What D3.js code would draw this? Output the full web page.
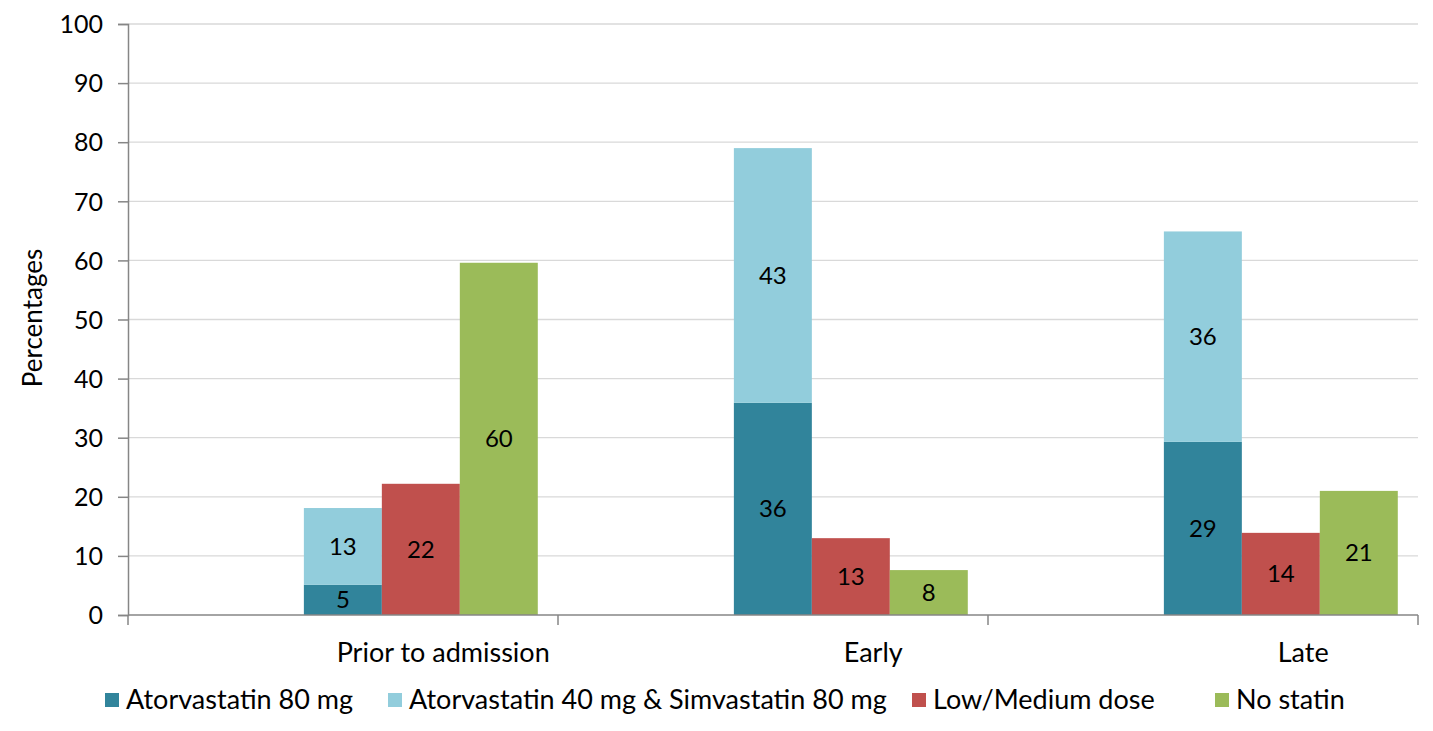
<!DOCTYPE html>
<html><head><meta charset="utf-8">
<script src="https://cdn.jsdelivr.net/npm/d3@7"></script>
<style>body{margin:0;background:#fff}svg{display:block}text{font-family:Lato,"Open Sans",sans-serif;fill:#000}</style>
</head><body>
<svg id="c" width="1433" height="731"></svg>
<script>
const categories = ["Prior to admission", "Early", "Late"];
const seriesNames = ["Atorvastatin 80 mg", "Atorvastatin 40 mg & Simvastatin 80 mg", "Low/Medium dose", "No statin"];
const atorva80 = [5.1, 35.9, 29.3];
const atorva40simva80 = [13.0, 43.1, 35.6];
const lowMedium = [22.2, 13.0, 13.9];
const noStatin = [59.6, 7.6, 21.0];
const yTicks = [0,10,20,30,40,50,60,70,80,90,100];
const colors = ["#31849B", "#92CDDC", "#C0504D", "#9BBB59"];

const svg = d3.select("#c");
const L = 128, R = 1418, T = 24, B = 615;
const x = d3.scaleBand().domain(categories).range([L, R]).padding(0);
const bw = x.bandwidth();
const slot = d3.scaleBand().domain(["stack","low","none"]).range([0.409*bw, 0.953*bw]).padding(0);
const y = d3.scaleLinear().domain([0,100]).range([B, T]);

// gridlines
svg.append("g").selectAll("line").data(yTicks.filter(d=>d>0)).join("line")
  .attr("x1", L).attr("x2", R).attr("y1", d=>y(d)).attr("y2", d=>y(d))
  .attr("stroke", "#D9D9D9").attr("stroke-width", 1.3);

// y axis
const yAx = svg.append("g").attr("transform", `translate(${L},0)`)
  .call(d3.axisLeft(y).tickValues(yTicks).tickSize(10).tickPadding(15).tickFormat(d3.format("d")));
yAx.select(".domain").attr("stroke", "#868686").attr("stroke-width", 1.5);
yAx.selectAll(".tick line").attr("stroke", "#868686").attr("stroke-width", 1.5);
yAx.selectAll("text").style("font-size", "25px").attr("fill", "#000").attr("dy", "0.35em");

const fmt = d3.format(".0f");
const rows = categories.map((c,i)=>({c, a:atorva80[i], b:atorva40simva80[i], l:lowMedium[i], n:noStatin[i]}));
const segs = [];
rows.forEach(r=>{
  segs.push({c:r.c, s:"stack", y0:0, y1:r.a, v:r.a, col:colors[0]});
  segs.push({c:r.c, s:"stack", y0:r.a, y1:r.a+r.b, v:r.b, col:colors[1]});
  segs.push({c:r.c, s:"low", y0:0, y1:r.l, v:r.l, col:colors[2]});
  segs.push({c:r.c, s:"none", y0:0, y1:r.n, v:r.n, col:colors[3]});
});
svg.append("g").selectAll("rect").data(segs).join("rect")
  .attr("x", d=>x(d.c)+slot(d.s)).attr("width", slot.bandwidth())
  .attr("y", d=>y(d.y1)).attr("height", d=>y(d.y0)-y(d.y1))
  .attr("fill", d=>d.col);
svg.append("g").selectAll("text").data(segs).join("text")
  .attr("x", d=>x(d.c)+slot(d.s)+slot.bandwidth()/2)
  .attr("y", d=>(y(d.y0)+y(d.y1))/2).attr("dy", "0.35em")
  .attr("text-anchor", "middle").style("font-size", "24px")
  .text(d=>fmt(d.v));

// x axis
const xg = svg.append("g");
xg.append("line").attr("x1", L).attr("x2", R).attr("y1", B).attr("y2", B)
  .attr("stroke", "#868686").attr("stroke-width", 1.5);
xg.selectAll("line.t").data([...categories.map(c=>x(c)), R]).join("line").attr("class","t")
  .attr("x1", d=>d).attr("x2", d=>d).attr("y1", B).attr("y2", B+10)
  .attr("stroke", "#868686").attr("stroke-width", 1.5);
xg.selectAll("text").data(categories).join("text")
  .attr("x", d=>x(d)+0.733*bw).attr("y", 653).attr("dy","0.35em")
  .attr("text-anchor","middle").style("font-size","27px").text(d=>d);

// y title
svg.append("text").attr("transform", "translate(33,318) rotate(-90)")
  .attr("text-anchor","middle").attr("dy","0.35em").style("font-size","26px").text("Percentages");

// legend
const legX = [105, 388, 912, 1215];
const lg = svg.append("g").selectAll("g").data(seriesNames).join("g")
  .attr("transform", (d,i)=>`translate(${legX[i]},700)`);
lg.append("rect").attr("x",0).attr("y",-7).attr("width",14).attr("height",14).attr("fill",(d,i)=>colors[i]);
lg.append("text").attr("x",21).attr("y",0).attr("dy","0.35em").style("font-size","27px").text(d=>d);
</script>
</body></html>
